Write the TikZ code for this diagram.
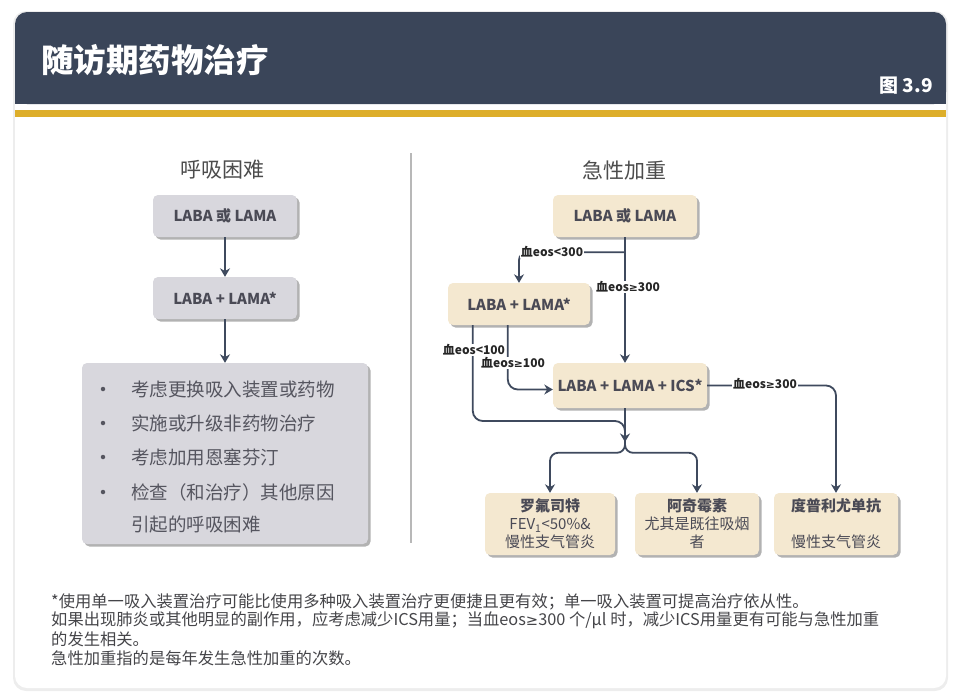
\documentclass[tikz,border=0pt]{standalone}
\usepackage{fontspec}
\setmainfont{Noto Sans CJK SC}
\newfontfamily\symfont{DejaVu Sans}
\newcommand{\gee}{{\symfont\addfontfeatures{Scale=0.9}≥}}
\usetikzlibrary{arrows.meta,shadows,calc}
\definecolor{navy}{HTML}{3A4559}
\definecolor{gold}{HTML}{DDAE2A}
\definecolor{lnc}{HTML}{3F4A5E}
\definecolor{graybox}{HTML}{D8D7DD}
\definecolor{beige}{HTML}{F4E8D0}
\definecolor{txt}{HTML}{4A4A55}
\definecolor{bodytxt}{HTML}{55555F}
\definecolor{foot}{HTML}{454549}
\newcommand{\fsz}[2]{\fontsize{#1}{#2}\selectfont}
\begin{document}
\begin{tikzpicture}[x=1pt,y=-1pt,
  ln/.style={draw=lnc,line width=1.8pt},
  arr/.style={ln,-{Stealth[length=8.5pt,width=10pt]}},
  lbox/.style={fill=graybox,rounded corners=5pt,
    drop shadow={shadow xshift=2.5pt,shadow yshift=-2.5pt,opacity=0.3,fill=black},
    text=txt,font=\bfseries\fsz{15}{18},inner sep=0pt,align=center},
  rbox/.style={lbox,fill=beige},
  bbox/.style={rbox,font=\fsz{15}{18}},
  lab/.style={fill=white,inner sep=1pt,text=black!85,font=\bfseries\fsz{12}{12}},
  head/.style={text=black!70,font=\fsz{21}{24}},
  bul/.style={text=bodytxt,font=\fsz{18.5}{20},anchor=west,inner sep=0pt},
  dot/.style={circle,fill=bodytxt,inner sep=0pt,minimum size=4.5pt},
  ftxt/.style={text=foot,font=\fsz{16.3}{18},anchor=west,inner sep=0pt}
]
\useasboundingbox (0,0) rectangle (960,699);
% card
\fill[black!7,rounded corners=13pt] (13,11) rectangle (948,691);
\fill[white,rounded corners=12pt] (15,12) rectangle (946,688);
% header
\fill[navy,rounded corners=12pt] (15,12) rectangle (946,104);
\fill[navy] (15,80) rectangle (946,104);
\fill[gold] (15,110) rectangle (946,117);
\node[anchor=west,text=white,font=\bfseries\fsz{32.5}{36},inner sep=0pt] (title) at (41,60) {随访期药物治疗};
\node[anchor=east,text=white,font=\bfseries\fsz{19}{22},inner sep=0pt] (fig) at (933,86) {图 3.9};
% divider
\draw[black!28,line width=1.2pt] (411,153) -- (411,543);
% left column
\node[head] (hl) at (222,170) {呼吸困难};
\node[lbox,minimum width=144pt,minimum height=42pt] (L1) at (225,216) {LABA 或 LAMA};
\node[lbox,minimum width=144pt,minimum height=42pt] (L2) at (225,298) {LABA + LAMA*};
\node[lbox,minimum width=286pt,minimum height=181pt] (L3) at (225,453.5) {};
\node[dot] (d1) at (103,389) {};
\node[dot] (d2) at (103,423) {};
\node[dot] (d3) at (103,457) {};
\node[dot] (d4) at (103,492) {};
\node[bul] (t1) at (131,389) {考虑更换吸入装置或药物};
\node[bul] (t2) at (131,423) {实施或升级非药物治疗};
\node[bul] (t3) at (131,457) {考虑加用恩塞芬汀};
\node[bul] (t4) at (131,492) {检查（和治疗）其他原因};
\node[bul] (t5) at (131,524) {引起的呼吸困难};
\draw[arr] (L1) -- (L2);
\draw[arr] (L2) -- (L3);
% right column
\node[head] (hr) at (624,170) {急性加重};
\node[rbox,minimum width=144pt,minimum height=42pt] (R1) at (625,216) {LABA 或 LAMA};
\node[rbox,minimum width=142pt,minimum height=42pt] (R2) at (519,304) {LABA + LAMA*};
\node[rbox,minimum width=154pt,minimum height=45pt] (R3) at (630,385.5) {LABA + LAMA + ICS*};
\node[bbox,minimum width=130pt,minimum height=62pt] (B1) at (550,524) {{\bfseries 罗氟司特}\\FEV\textsubscript{1}<50\%\&\\慢性支气管炎};
\node[bbox,minimum width=124pt,minimum height=62pt] (B2) at (697,524) {{\bfseries 阿奇霉素}\\尤其是既往吸烟\\者};
\node[bbox,minimum width=124pt,minimum height=62pt] (B3) at (836,524) {{\bfseries 度普利尤单抗}\\\mbox{}\\慢性支气管炎};
\coordinate (j0) at (625,421);
\coordinate (j1) at (625,442);
% connectors
\draw[arr] (R1.south) -- (R1.south |- R3.north);
\draw[arr,rounded corners=8pt] ($(R1.south)+(0,15)$) -| (R2.north);
\draw[ln,rounded corners=10pt] ($(R2.south west)+(25,0)$) |- (j0) -- (j1);
\draw[arr,rounded corners=10pt] ($(R2.south west)+(60,0)$) |- ($(R3.west)+(0,4)$);
\draw[arr] ($(R3.south)+(-5,0)$) -- (j1);
\draw[arr,rounded corners=10pt] (R3.east) -| (B3.north);
\draw[arr,rounded corners=8pt] (j1) |- ($(B1.north)+(0,-40)$) -- (B1.north);
\draw[arr,rounded corners=8pt] (j1) |- ($(B2.north)+(0,-40)$) -- (B2.north);
% labels
\node[lab] (a1) at (552,252) {血eos<300};
\node[lab] (a2) at (628,287) {血eos\gee300};
\node[lab] (a3) at (474,350) {血eos<100};
\node[lab] (a4) at (513,363) {血eos\gee100};
\node[lab] (a5) at (765,384) {血eos\gee300};
% footnotes
\node[ftxt] (f1) at (51,602) {*使用单一吸入装置治疗可能比使用多种吸入装置治疗更便捷且更有效；单一吸入装置可提高治疗依从性。};
\node[ftxt] (f2) at (51,620.5) {如果出现肺炎或其他明显的副作用，应考虑减少ICS用量；当血eos\gee300 个/μl 时，减少ICS用量更有可能与急性加重};
\node[ftxt] (f3) at (51,639) {的发生相关。};
\node[ftxt] (f4) at (51,658) {急性加重指的是每年发生急性加重的次数。};
\end{tikzpicture}
\end{document}
